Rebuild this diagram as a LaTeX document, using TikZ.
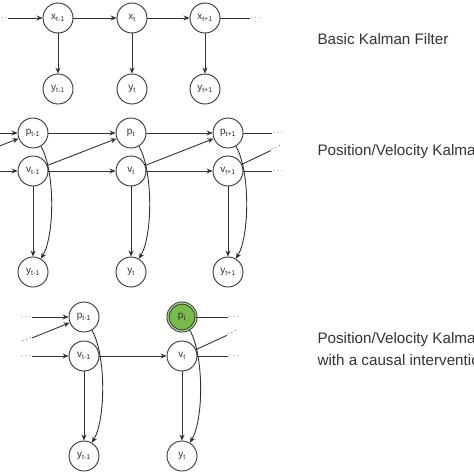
\documentclass[tikz,border=0pt]{standalone}
\usepackage{fontspec}
\setmainfont{Liberation Sans}
\usepackage{xcolor}
\definecolor{kgreen}{HTML}{78BB4A}
\definecolor{kline}{HTML}{333333}
\usetikzlibrary{arrows.meta}

\begin{document}
\begin{tikzpicture}[x=1pt, y=-1pt,
            var/.style={circle, draw=kline, line width=.9pt, fill=white, minimum size=30pt,
                inner sep=0pt, font=\fontsize{10}{10}\selectfont, text=kline},
            fixed/.style={var, fill=kgreen, double=kgreen!60!white, double distance=1.2pt, minimum size=28pt},
            link/.style={line width=.9pt, draw=kline, -{Stealth[length=6pt, width=5pt]}},
            wire/.style={line width=.9pt, draw=kline},
            more/.style={inner sep=0pt, font=\small, text=kline},
            lbl/.style={anchor=west, font=\fontsize{15.2}{22}\selectfont, align=left, text=kline},
        ]
            \useasboundingbox (0,0) rectangle (474,474);
            \clip (0,0) rectangle (474,474);

            % basic kalman filter
            \node[var] (xa) at (58,18)  {x\textsubscript{t-1}};
            \node[var] (xb) at (132,18) {x\textsubscript{t}};
            \node[var] (xc) at (205,18) {x\textsubscript{t+1}};
            \node[var] (ya) at (58,89)  {y\textsubscript{t-1}};
            \node[var] (yb) at (132,89) {y\textsubscript{t}};
            \node[var] (yc) at (205,89) {y\textsubscript{t+1}};
            \node[more, anchor=east] (xin) at (8,18) {$\cdots$};
            \node[more] (xout) at (256,18) {$\cdots$};
            \draw[link] (xin) -- (xa);
            \draw[link] (xa) -- (xb);
            \draw[link] (xb) -- (xc);
            \draw[wire] (xc) -- (xout);
            \draw[link] (xa) -- (ya);
            \draw[link] (xb) -- (yb);
            \draw[link] (xc) -- (yc);
            \node[lbl] (basic) at (314,39) {Basic Kalman Filter};

            % position / velocity filter
            \node[var] (pa) at (33,133)  {p\textsubscript{t-1}};
            \node[var] (pb) at (131,133) {p\textsubscript{t}};
            \node[var] (pc) at (228,133) {p\textsubscript{t+1}};
            \node[var] (va) at (33,171)  {v\textsubscript{t-1}};
            \node[var] (vb) at (131,171) {v\textsubscript{t}};
            \node[var] (vc) at (228,171) {v\textsubscript{t+1}};
            \node[var] (wa) at (33,272)  {y\textsubscript{t-1}};
            \node[var] (wb) at (131,272) {y\textsubscript{t}};
            \node[var] (wc) at (228,272) {y\textsubscript{t+1}};
            \coordinate (pin) at (-20,133);
            \coordinate (vin) at (-20,171);
            \coordinate (din) at (-65,171);
            \node[more] (pout) at (278,133) {$\cdots$};
            \node[more] (vout) at (278,171) {$\cdots$};
            \node[more, rotate=22] (dout) at (276,148) {$\cdots$};
            \draw[link] (pin) -- (pa);
            \draw[link] (din) -- (pa);
            \draw[link] (vin) -- (va);
            \draw[link] (pa) -- (pb);
            \draw[link] (pb) -- (pc);
            \draw[link] (va) -- (vb);
            \draw[link] (vb) -- (vc);
            \draw[link] (va) -- (pb);
            \draw[link] (vb) -- (pc);
            \draw[wire] (pc) -- (pout);
            \draw[wire] (vc) -- (vout);
            \draw[wire] (vc) -- (dout);
            \draw[link] (va) -- (wa);
            \draw[link] (vb) -- (wb);
            \draw[link] (vc) -- (wc);
            \draw[link] (pa) .. controls +(22,37) and +(22,-37) .. (wa);
            \draw[link] (pb) .. controls +(22,37) and +(22,-37) .. (wb);
            \draw[link] (pc) .. controls +(22,37) and +(22,-37) .. (wc);
            \node[lbl] (posvel) at (314,152) {Position/Velocity Kalman Filter};

            % same filter, position fixed by intervention
            \node[var] (pd) at (84,317)    {p\textsubscript{t-1}};
            \node[fixed] (pe) at (182,317) {p\textsubscript{t}};
            \node[var] (vd) at (84,356)    {v\textsubscript{t-1}};
            \node[var] (ve) at (182,356)   {v\textsubscript{t}};
            \node[var] (yd) at (84,456)    {y\textsubscript{t-1}};
            \node[var] (ye) at (182,456)   {y\textsubscript{t}};
            \node[more] (pdin) at (26,317) {$\cdots$};
            \node[more] (vdin) at (26,356) {$\cdots$};
            \node[more, rotate=22] (ddin) at (27,340) {$\cdots$};
            \node[more] (peout) at (234,317) {$\cdots$};
            \node[more] (veout) at (234,356) {$\cdots$};
            \node[more, rotate=22] (deout) at (232,333) {$\cdots$};
            \draw[link] (pdin) -- (pd);
            \draw[link] (ddin) -- (pd);
            \draw[link] (vdin) -- (vd);
            \draw[link] (vd) -- (ve);
            \draw[wire] (pe) -- (peout);
            \draw[wire] (ve) -- (veout);
            \draw[wire] (ve) -- (deout);
            \draw[link] (vd) -- (yd);
            \draw[link] (ve) -- (ye);
            \draw[link] (pd) .. controls +(22,37) and +(22,-37) .. (yd);
            \draw[link] (pe) .. controls +(22,37) and +(22,-37) .. (ye);
            \node[lbl] (causal) at (314,349) {Position/Velocity Kalman Filter\\with a causal intervention};
        \end{tikzpicture}
\end{document}
